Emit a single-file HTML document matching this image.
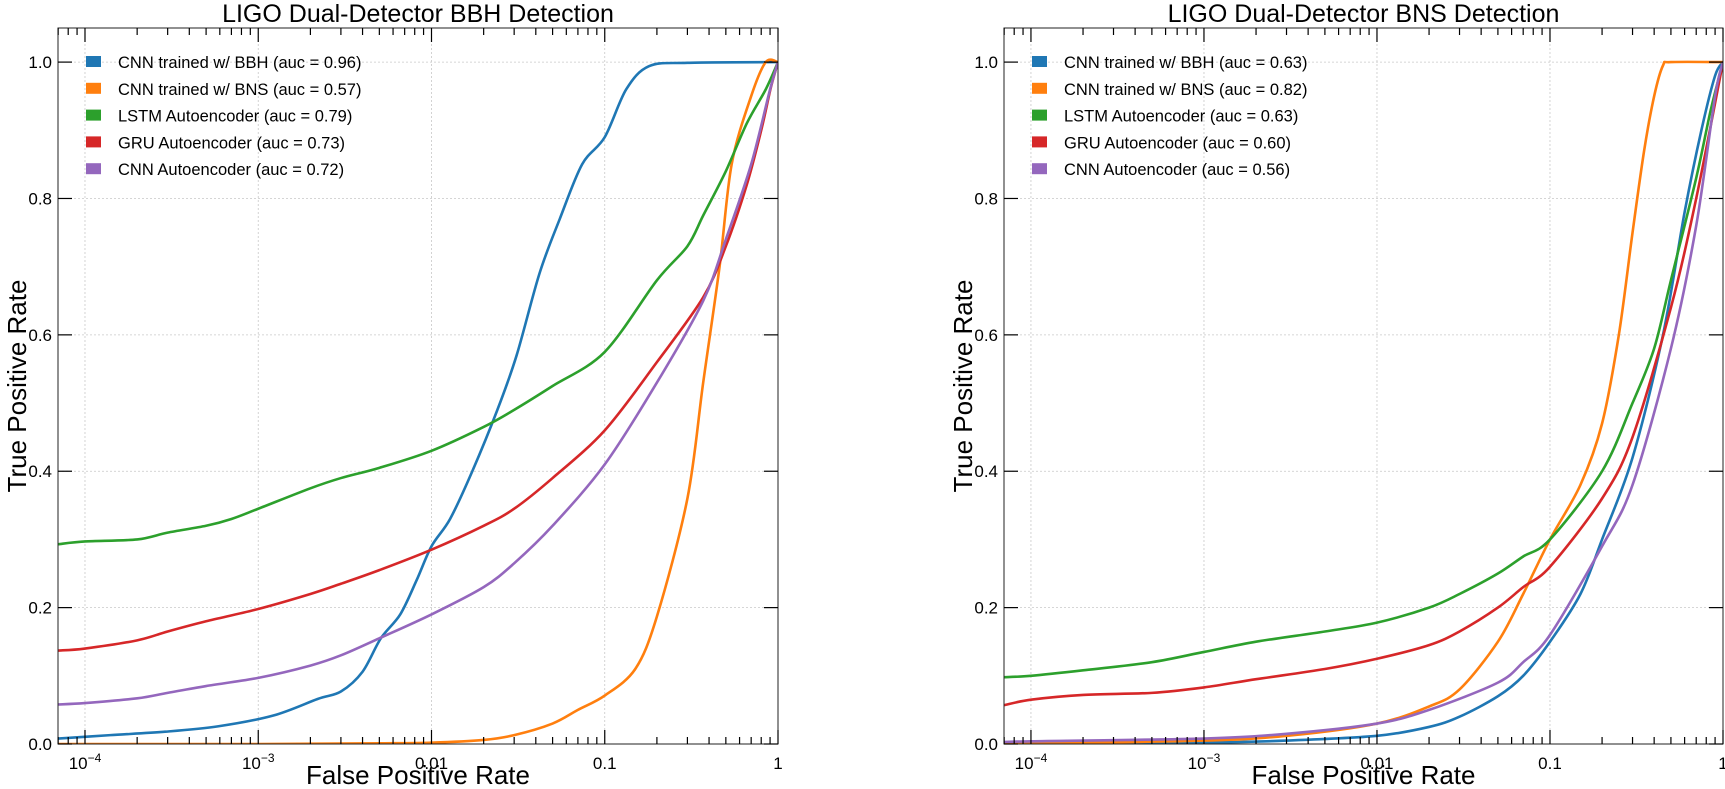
<!DOCTYPE html>
<html><head><meta charset="utf-8"><style>
html,body{margin:0;padding:0;background:#fff;}
svg{display:block;font-family:"Liberation Sans",sans-serif;}
</style></head><body>
<svg id="fig" width="1725" height="789" viewBox="0 0 1725 789"></svg>
<script>
// ---- data ----
const xTicksVal=[1e-4,1e-3,1e-2,1e-1,1];
const xTickLabels=['10<tspan dy="-7" font-size="12">−4</tspan>','10<tspan dy="-7" font-size="12">−3</tspan>','0.01','0.1','1'];
const yTicksVal=[0,0.2,0.4,0.6,0.8,1.0];
const yTickLabels=['0.0','0.2','0.4','0.6','0.8','1.0'];
const seriesNames=['CNN trained w/ BBH','CNN trained w/ BNS','LSTM Autoencoder','GRU Autoencoder','CNN Autoencoder'];
const bbhAuc=['0.96','0.57','0.79','0.73','0.72'];
const bnsAuc=['0.63','0.82','0.63','0.60','0.56'];
// BBH panel
const bbhBlueX=[7e-5,1.4e-4,2.9e-4,5.9e-4,1.23e-3,2.2e-3,3e-3,4e-3,5.1e-3,6.6e-3,8.2e-3,0.01,0.0128,0.0172,0.024,0.031,0.042,0.055,0.074,0.1,0.133,0.18,0.3,1];
const bbhBlueY=[0.008,0.013,0.018,0.026,0.042,0.066,0.077,0.106,0.155,0.19,0.24,0.29,0.33,0.40,0.49,0.57,0.69,0.77,0.85,0.89,0.96,0.994,0.999,1];
const bbhOrangeX=[7e-5,1e-3,0.005,0.01,0.02,0.03,0.05,0.07,0.1,0.15,0.2,0.3,0.37,0.46,0.54,0.7,0.85,1];
const bbhOrangeY=[0,0,0.001,0.002,0.006,0.013,0.03,0.05,0.071,0.11,0.187,0.36,0.53,0.70,0.85,0.95,1.0,1.0];
const bbhGreenX=[7e-5,1e-4,2e-4,3e-4,5e-4,7e-4,1e-3,2e-3,3e-3,5e-3,0.01,0.02,0.03,0.05,0.1,0.2,0.3,0.37,0.5,0.66,0.85,1];
const bbhGreenY=[0.293,0.297,0.30,0.31,0.32,0.33,0.345,0.375,0.39,0.405,0.43,0.465,0.49,0.525,0.575,0.68,0.73,0.775,0.84,0.91,0.96,1];
const bbhRedX=[7e-5,1e-4,2e-4,3e-4,5e-4,1e-3,2e-3,3e-3,5e-3,0.01,0.02,0.03,0.05,0.1,0.2,0.37,0.5,0.66,0.8,0.91,1];
const bbhRedY=[0.137,0.14,0.152,0.165,0.18,0.198,0.22,0.235,0.255,0.285,0.32,0.345,0.39,0.46,0.56,0.655,0.73,0.82,0.9,0.963,1];
const bbhPurpleX=[7e-5,1e-4,2e-4,3e-4,5e-4,1e-3,2e-3,3e-3,5e-3,0.01,0.02,0.03,0.05,0.1,0.2,0.37,0.5,0.7,0.9,1];
const bbhPurpleY=[0.058,0.06,0.067,0.075,0.085,0.097,0.115,0.13,0.155,0.19,0.23,0.265,0.32,0.41,0.53,0.65,0.74,0.85,0.96,1];
// BNS panel
const bnsBlueX=[7e-5,1e-4,1e-3,3e-3,0.01,0.02,0.03,0.05,0.07,0.1,0.15,0.2,0.3,0.45,0.6,0.75,0.9,1];
const bnsBlueY=[0,0.001,0.002,0.005,0.012,0.025,0.04,0.07,0.1,0.15,0.22,0.3,0.42,0.6,0.78,0.9,0.98,1];
const bnsOrangeX=[7e-5,1e-4,1e-3,3e-3,0.01,0.02,0.03,0.05,0.07,0.1,0.15,0.2,0.25,0.3,0.35,0.4,0.45,0.5,1];
const bnsOrangeY=[0.001,0.001,0.005,0.012,0.03,0.055,0.08,0.15,0.22,0.3,0.38,0.47,0.6,0.75,0.87,0.95,0.995,1,1];
const bnsGreenX=[7e-5,1e-4,2e-4,5e-4,1e-3,2e-3,5e-3,0.01,0.02,0.03,0.05,0.07,0.1,0.2,0.3,0.4,0.5,0.7,0.85,1];
const bnsGreenY=[0.098,0.1,0.108,0.12,0.135,0.15,0.165,0.178,0.2,0.22,0.25,0.275,0.3,0.4,0.5,0.58,0.68,0.83,0.93,1];
const bnsRedX=[7e-5,1e-4,2e-4,5e-4,1e-3,2e-3,5e-3,0.01,0.02,0.03,0.05,0.07,0.1,0.2,0.3,0.5,0.7,1];
const bnsRedY=[0.057,0.065,0.072,0.075,0.083,0.095,0.11,0.125,0.145,0.165,0.2,0.23,0.26,0.36,0.45,0.64,0.8,1];
const bnsPurpleX=[7e-5,1e-4,1e-3,3e-3,0.01,0.02,0.05,0.07,0.1,0.2,0.3,0.5,0.7,0.9,1];
const bnsPurpleY=[0.003,0.004,0.008,0.015,0.03,0.05,0.09,0.12,0.16,0.29,0.38,0.58,0.76,0.95,1];

const colors=['#1f77b4','#ff7f0e','#2ca02c','#d62728','#9467bd'];
const NS='http://www.w3.org/2000/svg';
const svg=document.getElementById('fig');
function el(tag,attrs,parent){const e=document.createElementNS(NS,tag);for(const k in attrs)e.setAttribute(k,attrs[k]);(parent||svg).appendChild(e);return e;}
function smoothPath(pts){
  let d='M'+pts[0][0].toFixed(2)+','+pts[0][1].toFixed(2);
  for(let i=0;i<pts.length-1;i++){
    const p0=pts[Math.max(0,i-1)],p1=pts[i],p2=pts[i+1],p3=pts[Math.min(pts.length-1,i+2)];
    const t=0.16;
    const c1=[p1[0]+(p2[0]-p0[0])*t,p1[1]+(p2[1]-p0[1])*t];
    const c2=[p2[0]-(p3[0]-p1[0])*t,p2[1]-(p3[1]-p1[1])*t];
    d+='C'+c1[0].toFixed(2)+','+c1[1].toFixed(2)+' '+c2[0].toFixed(2)+','+c2[1].toFixed(2)+' '+p2[0].toFixed(2)+','+p2[1].toFixed(2);
  }
  return d;
}

const plotTop=28,plotBottom=744,yMax=1.05;
function panel(left,right,title,auc,xs,ys,key){
  const g=el('g',{});
  
  
  const lx0=Math.log10(1e-4)-(27/173.3), lx1=0;
  const X=v=>left+(Math.log10(v)-lx0)/(lx1-lx0)*(right-left);
  const Y=v=>plotBottom-(v/yMax)*(plotBottom-plotTop);
  xTicksVal.forEach(v=>{const l=el('line',{x1:X(v),x2:X(v),y1:plotTop,y2:plotBottom,stroke:'#c8c8c8','stroke-width':0.8,'stroke-dasharray':'2,2'},g);
    });
  yTicksVal.forEach(v=>{const l=el('line',{x1:left,x2:right,y1:Y(v),y2:Y(v),stroke:'#c8c8c8','stroke-width':0.8,'stroke-dasharray':'2,2'},g);
    });
  const clip=el('clipPath',{id:'clip-'+key},g);
  el('rect',{x:left,y:plotTop,width:right-left,height:plotBottom-plotTop},clip);
  xs.forEach((xa,i)=>{
    const pts=xa.map((x,j)=>[X(Math.max(x,1e-6)),Y(ys[i][j])]);
    const p=el('path',{d:smoothPath(pts),fill:'none',stroke:colors[i],'stroke-width':2.6,'stroke-linejoin':'round','clip-path':'url(#clip-'+key+')'},g);
    
    
  });
  const fr=el('rect',{x:left,y:plotTop,width:right-left,height:plotBottom-plotTop,fill:'none',stroke:'#222','stroke-width':1},g);
  
  for(let d=-5;d<=0;d++){for(let m=1;m<=9;m++){const v=m*Math.pow(10,d);
    if(v<Math.pow(10,lx0)||v>1.0001)continue;const x=X(v);const L=m===1?14:7;
    el('line',{x1:x,x2:x,y1:plotBottom,y2:plotBottom-L,stroke:'#000','stroke-width':1.2},g);
    el('line',{x1:x,x2:x,y1:plotTop,y2:plotTop+L,stroke:'#000','stroke-width':1.2},g);}}
  xTicksVal.forEach((v,i)=>{const t=el('text',{x:X(v),y:769,'font-size':17,'text-anchor':'middle'},g);t.innerHTML=xTickLabels[i];
    });
  yTicksVal.forEach((v,i)=>{const y=Y(v);
    el('line',{x1:left,x2:left+14,y1:y,y2:y,stroke:'#000','stroke-width':1.2},g);
    el('line',{x1:right,x2:right-14,y1:y,y2:y,stroke:'#000','stroke-width':1.2},g);
    const t=el('text',{x:left-6,y:y+6,'font-size':17,'text-anchor':'end'},g);t.textContent=yTickLabels[i];
    });
  const tt=el('text',{x:(left+right)/2,y:22,'font-size':25,'text-anchor':'middle'},g);tt.textContent=title;
  
  const xl=el('text',{x:(left+right)/2,y:784,'font-size':26,'text-anchor':'middle'},g);xl.textContent='False Positive Rate';
  
  const yl=el('text',{x:0,y:0,'font-size':26,'text-anchor':'middle',transform:'translate('+(left-32)+','+((plotTop+plotBottom)/2)+') rotate(-90)'},g);yl.textContent='True Positive Rate';
  
  seriesNames.forEach((n,i)=>{const y=62+i*26.8;
    const r=el('rect',{x:left+28,y:y-6,width:15,height:11,fill:colors[i]},g);
    
    const t=el('text',{x:left+60,y:y+6,'font-size':16.5},g);t.textContent=n+' (auc = '+auc[i]+')';
    });
}
panel(58,778,'LIGO Dual-Detector BBH Detection',bbhAuc,
  [bbhBlueX,bbhOrangeX,bbhGreenX,bbhRedX,bbhPurpleX],[bbhBlueY,bbhOrangeY,bbhGreenY,bbhRedY,bbhPurpleY],'bbh');
panel(1004,1723,'LIGO Dual-Detector BNS Detection',bnsAuc,
  [bnsBlueX,bnsOrangeX,bnsGreenX,bnsRedX,bnsPurpleX],[bnsBlueY,bnsOrangeY,bnsGreenY,bnsRedY,bnsPurpleY],'bns');
</script>
</body></html>
